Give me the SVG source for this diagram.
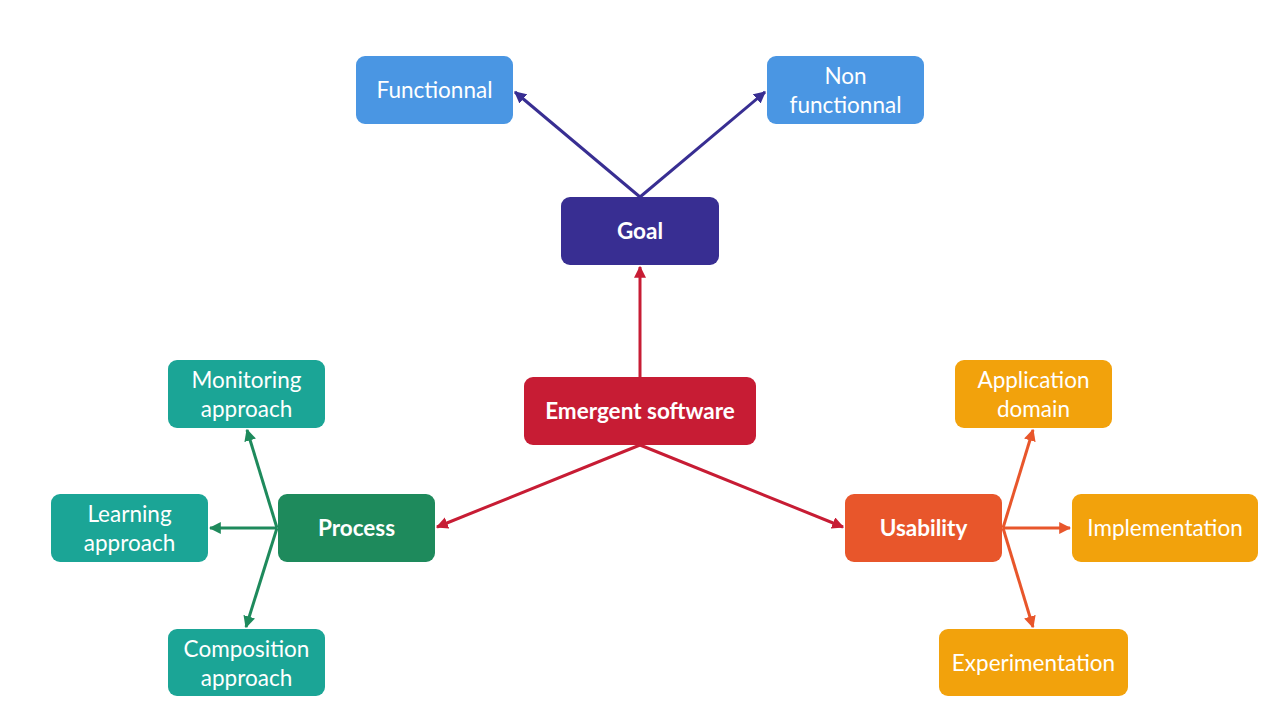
<svg xmlns="http://www.w3.org/2000/svg" width="1280" height="720" viewBox="0 0 1280 720">
<defs>
<marker id="mNavy" viewBox="0 0 10 10" refX="9" refY="5" markerWidth="4" markerHeight="4" orient="auto"><path d="M0,0 L10,5 L0,10 Z" fill="#382E92"/></marker>
<marker id="mRed" viewBox="0 0 10 10" refX="9" refY="5" markerWidth="4" markerHeight="4" orient="auto"><path d="M0,0 L10,5 L0,10 Z" fill="#C71C34"/></marker>
<marker id="mGreen" viewBox="0 0 10 10" refX="9" refY="5" markerWidth="4" markerHeight="4" orient="auto"><path d="M0,0 L10,5 L0,10 Z" fill="#1E8A5C"/></marker>
<marker id="mOrange" viewBox="0 0 10 10" refX="9" refY="5" markerWidth="4" markerHeight="4" orient="auto"><path d="M0,0 L10,5 L0,10 Z" fill="#E8562B"/></marker>
</defs>
<style>
.box{rx:9;ry:9}
.lt{fill:#FFFFFF;font-family:"Lato","Liberation Sans",sans-serif;font-size:22.5px;text-anchor:middle}
.bd{fill:#FFFFFF;font-family:"Lato","Liberation Sans",sans-serif;font-size:22.5px;font-weight:bold;text-anchor:middle}
.c{fill:none;stroke-width:3}
</style>
<rect width="1280" height="720" fill="#FFFFFF"/>
<g id="connectors">
<line class="c" x1="640" y1="197" x2="515" y2="92" stroke="#382E92" marker-end="url(#mNavy)"/>
<line class="c" x1="640" y1="197" x2="765" y2="92" stroke="#382E92" marker-end="url(#mNavy)"/>
<line class="c" x1="640" y1="377" x2="640" y2="267" stroke="#C71C34" marker-end="url(#mRed)"/>
<line class="c" x1="640" y1="445" x2="437" y2="527" stroke="#C71C34" marker-end="url(#mRed)"/>
<line class="c" x1="640" y1="445" x2="843" y2="527" stroke="#C71C34" marker-end="url(#mRed)"/>
<line class="c" x1="277" y1="528" x2="247" y2="430" stroke="#1E8A5C" marker-end="url(#mGreen)"/>
<line class="c" x1="277" y1="528" x2="210" y2="528" stroke="#1E8A5C" marker-end="url(#mGreen)"/>
<line class="c" x1="277" y1="528" x2="246" y2="627" stroke="#1E8A5C" marker-end="url(#mGreen)"/>
<line class="c" x1="1003" y1="528" x2="1033" y2="430" stroke="#E8562B" marker-end="url(#mOrange)"/>
<line class="c" x1="1003" y1="528" x2="1070" y2="528" stroke="#E8562B" marker-end="url(#mOrange)"/>
<line class="c" x1="1003" y1="528" x2="1033" y2="627" stroke="#E8562B" marker-end="url(#mOrange)"/>
</g>
<g id="functionnal"><rect class="box" x="356" y="56" width="157" height="68" fill="#4A96E3"/><text class="lt" x="434.5" y="98">Functionnal</text></g>
<g id="nonfunctionnal"><rect class="box" x="767" y="56" width="157" height="68" fill="#4A96E3"/><text class="lt" x="845.5" y="84">Non</text><text class="lt" x="845.5" y="113">functionnal</text></g>
<g id="goal"><rect class="box" x="561" y="197" width="158" height="68" fill="#382E92"/><text class="bd" x="640" y="239">Goal</text></g>
<g id="emergent"><rect class="box" x="524" y="377" width="232" height="68" fill="#C71C34"/><text class="bd" x="640" y="419">Emergent software</text></g>
<g id="process"><rect class="box" x="278" y="494" width="157" height="68" fill="#1E8A5C"/><text class="bd" x="356.5" y="536">Process</text></g>
<g id="usability"><rect class="box" x="845" y="494" width="157" height="68" fill="#E8562B"/><text class="bd" x="923.5" y="536">Usability</text></g>
<g id="monitoring"><rect class="box" x="168" y="360" width="157" height="68" fill="#1BA596"/><text class="lt" x="246.5" y="388">Monitoring</text><text class="lt" x="246.5" y="417">approach</text></g>
<g id="learning"><rect class="box" x="51" y="494" width="157" height="68" fill="#1BA596"/><text class="lt" x="129.5" y="522">Learning</text><text class="lt" x="129.5" y="551">approach</text></g>
<g id="composition"><rect class="box" x="168" y="629" width="157" height="67" fill="#1BA596"/><text class="lt" x="246.5" y="657">Composition</text><text class="lt" x="246.5" y="686">approach</text></g>
<g id="application"><rect class="box" x="955" y="360" width="157" height="68" fill="#F2A20C"/><text class="lt" x="1033.5" y="388">Application</text><text class="lt" x="1033.5" y="417">domain</text></g>
<g id="implementation"><rect class="box" x="1072" y="494" width="186" height="68" fill="#F2A20C"/><text class="lt" x="1165" y="536">Implementation</text></g>
<g id="experimentation"><rect class="box" x="939" y="629" width="189" height="67" fill="#F2A20C"/><text class="lt" x="1033.5" y="671">Experimentation</text></g>
</svg>
